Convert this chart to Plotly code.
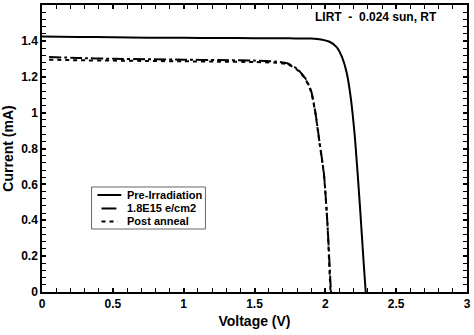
import plotly.graph_objects as go

# I-V curves under LIRT conditions
v_pre = [0.0, 0.25, 0.5, 0.75, 1.0, 1.25, 1.5, 1.75, 1.9, 1.97, 2.03, 2.08, 2.12, 2.15, 2.18, 2.21, 2.245, 2.27, 2.285]
i_pre = [1.425, 1.422, 1.42, 1.418, 1.417, 1.416, 1.415, 1.414, 1.413, 1.408, 1.395, 1.365, 1.305, 1.225, 1.08, 0.85, 0.47, 0.17, 0.0]

v_irr = [0.05, 0.25, 0.5, 0.75, 1.0, 1.25, 1.5, 1.65, 1.73, 1.80, 1.86, 1.90, 1.93, 1.96, 1.99, 2.015, 2.035, 2.04]
i_irr = [1.31, 1.305, 1.30, 1.298, 1.295, 1.293, 1.29, 1.285, 1.275, 1.245, 1.19, 1.12, 1.0, 0.83, 0.66, 0.38, 0.07, 0.0]

v_ann = [0.05, 0.25, 0.5, 0.75, 1.0, 1.25, 1.5, 1.65, 1.73, 1.80, 1.86, 1.90, 1.93, 1.96, 1.99, 2.015, 2.032, 2.037]
i_ann = [1.295, 1.292, 1.29, 1.288, 1.286, 1.284, 1.282, 1.278, 1.27, 1.24, 1.185, 1.115, 0.995, 0.825, 0.655, 0.375, 0.07, 0.0]

names = ["Pre-Irradiation", "1.8E15 e/cm2", "Post anneal"]
dashes = ["solid", "12px,3px,3px,3px", "4px,4px"]
legend_dashes = ["solid", "solid", "4px,4px"]

FONT = "Liberation Sans, Arial, sans-serif"

fig = go.Figure()
for vx, iy, nm, ds in zip([v_pre, v_irr, v_ann], [i_pre, i_irr, i_ann], names, dashes):
    fig.add_trace(go.Scatter(x=vx, y=iy, mode="lines", name=nm, showlegend=False,
                             line=dict(color="black", width=2, dash=ds,
                                       shape="spline", smoothing=0.6)))

axis_common = dict(
    showgrid=False, zeroline=False, showline=True, linecolor="black", linewidth=1.5,
    mirror="allticks", ticks="inside", ticklen=4, tickwidth=1.5, tickcolor="black",
    tickfont=dict(family=FONT, size=12, color="black", weight="bold"),
)

fig.update_xaxes(range=[0, 3], dtick=0.5, **axis_common,
                 minor=dict(ticks="inside", dtick=0.1, ticklen=4, tickwidth=1.3, tickcolor="black"),
                 title=dict(text="<b>Voltage (V)</b>", font=dict(family=FONT, size=14, color="black"),
                            standoff=6))
fig.update_yaxes(range=[0, 1.6], dtick=0.2, **axis_common,
                 minor=dict(ticks="inside", dtick=0.04, ticklen=4, tickwidth=1.3, tickcolor="black"),
                 title=dict(text="<b>Current (mA)</b>", font=dict(family=FONT, size=14, color="black"),
                            standoff=4))

fig.add_annotation(x=0.935, y=0.988, xref="paper", yref="paper", xanchor="right", yanchor="top",
                   text="<b>LIRT  -  0.024 sun, RT</b>", showarrow=False,
                   font=dict(family=FONT, size=12, color="black"))

# Compact legend box drawn in paper coordinates
box_x0, box_x1, box_y0, box_y1 = 0.1166, 0.3846, 0.2195, 0.3659
fig.add_shape(type="rect", xref="paper", yref="paper", x0=box_x0, x1=box_x1, y0=box_y0, y1=box_y1,
              line=dict(color="#666", width=1), fillcolor="white", layer="above")
row_y = [0.338, 0.291, 0.246]
sample_x = [(0.1305, 0.1865), (0.140, 0.175), (0.140, 0.178)]
for ry, (sx0, sx1), nm, ds in zip(row_y, sample_x, names, legend_dashes):
    fig.add_shape(type="line", xref="paper", yref="paper", x0=sx0, x1=sx1, y0=ry, y1=ry,
                  line=dict(color="black", width=2, dash=ds), layer="above")
    fig.add_annotation(x=0.196, y=ry, xref="paper", yref="paper", xanchor="left", yanchor="middle",
                       text=f"<b>{nm}</b>", showarrow=False,
                       font=dict(family=FONT, size=11, color="black"))

fig.update_layout(
    width=474, height=335,
    margin=dict(l=42, r=3, t=5, b=43),
    paper_bgcolor="white", plot_bgcolor="white",
    showlegend=False,
)

fig.write_html("out.html")
